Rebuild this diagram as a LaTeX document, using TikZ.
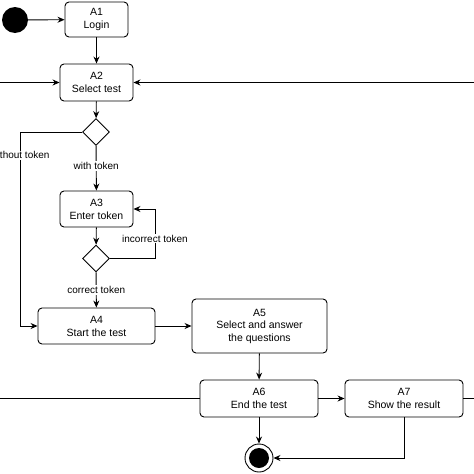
\documentclass[tikz,border=0pt]{standalone}
\usepackage{fontspec}
\setmainfont{Liberation Sans}
\usetikzlibrary{shapes.geometric,arrows.meta}
\begin{document}
\begin{tikzpicture}[x=1pt,y=-1pt,
  act/.style={draw,rounded corners=4pt,line width=0.9pt,align=center,inner sep=0pt,
    font=\fontsize{10.5}{13}\selectfont},
  dec/.style={draw,diamond,aspect=1,minimum width=27pt,minimum height=27pt,inner sep=0pt,line width=0.9pt},
  lbl/.style={fill=white,inner sep=1pt,font=\fontsize{10}{12}\selectfont},
  flow/.style={line width=0.9pt,-{Stealth[length=7pt,width=6pt]}},
  plain/.style={line width=0.9pt}]
\useasboundingbox (0,0) rectangle (474,474);
\clip (0,0) rectangle (474,474);
\node[circle,fill=black,minimum size=26pt,inner sep=0pt] (start) at (15,20) {};
\node[act,minimum width=63pt,minimum height=35pt] (A1) at (96.5,19.5) {A1\\Login};
\node[act,minimum width=73pt,minimum height=37pt] (A2) at (96.5,82.5) {A2\\Select test};
\node[dec] (D1) at (96,132) {};
\node[act,minimum width=73pt,minimum height=36pt] (A3) at (96.5,209) {A3\\Enter token};
\node[dec] (D2) at (96,258.5) {};
\node[act,minimum width=117pt,minimum height=36pt] (A4) at (96.5,326) {A4\\Start the test};
\node[act,minimum width=135pt,minimum height=54pt,font=\fontsize{10.5}{12.5}\selectfont] (A5) at (259.5,326) {A5\\Select and answer\\the questions};
\node[act,minimum width=118pt,minimum height=37pt] (A6) at (259,398.5) {A6\\End the test};
\node[act,minimum width=118pt,minimum height=37pt] (A7) at (404,398.5) {A7\\Show the result};
\node[circle,draw,line width=0.9pt,minimum size=28pt,inner sep=0pt] (end) at (259,458) {};
\node[circle,fill=black,minimum size=20pt,inner sep=0pt] at (end) {};
\coordinate (L2) at (0,82.5);
\coordinate (R2) at (474,82.5);
\coordinate (L6) at (0,398.5);
\coordinate (R7) at (474,398.5);
\coordinate (wl) at (20,132);
\coordinate (ir) at (155,258.5);
\draw[flow] (start) -- (A1);
\draw[flow] (A1) -- (A2);
\draw[flow] (L2) -- (A2.west);
\draw[flow] (R2) -- (A2.east);
\draw[flow] (A2) -- (D1);
\draw[flow] (D1) -- node[lbl,pos=0.45] {with token} (A3);
\draw[flow] (D1.west) -- (wl) -- node[lbl,pos=0.12] {without token} (wl |- A4.west) -- (A4.west);
\draw[flow] (A3) -- (D2);
\draw[flow] (D2.east) -- (ir) -- node[lbl,pos=0.4] {incorrect token} (ir |- A3.east) -- (A3.east);
\draw[flow] (D2) -- node[lbl,pos=0.5] {correct token} (A4);
\draw[flow] (A4) -- (A5);
\draw[flow] (A5) -- (A6);
\draw[plain] (L6) -- (A6.west);
\draw[flow] (A6) -- (A7);
\draw[plain] (A7.east) -- (R7);
\draw[flow] (A6) -- (end);
\draw[flow] (A7.south) |- (end.east);
\end{tikzpicture}
\end{document}
